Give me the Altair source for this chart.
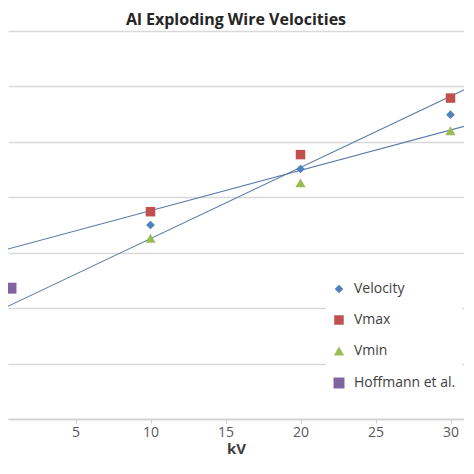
import altair as alt
import pandas as pd

# measured values
kv = [10, 20, 30]
velocity = [3.50, 4.51, 5.49]
vmax = [3.74, 4.77, 5.79]
vmin = [3.26, 4.26, 5.20]
hoff_kv = [0.7]
hoff_v = [2.36]

# trend lines (end points)
trend_kv = [0, 32]
trend_a = [3.03, 5.36]
trend_b = [1.97, 6.08]

series = ["Velocity", "Vmax", "Vmin", "Hoffmann et al."]
colors = ["#4f81bd", "#c0504d", "#9bbb59", "#8064a2"]
shapes = ["diamond", "square", "triangle-up", "square"]
sizes = [75, 120, 95, 190]
y_ticks = [0, 1, 2, 3, 4, 5, 6, 7]
x_ticks = [5, 10, 15, 20, 25, 30]

rows = []
for name, vals in [("Velocity", velocity), ("Vmax", vmax), ("Vmin", vmin)]:
    for k, v in zip(kv, vals):
        rows.append({"kV": k, "v": v, "series": name})
for k, v in zip(hoff_kv, hoff_v):
    rows.append({"kV": k, "v": v, "series": "Hoffmann et al."})
pts = pd.DataFrame(rows)

lines = pd.DataFrame(
    [{"kV": k, "v": v, "line": "A"} for k, v in zip(trend_kv, trend_a)]
    + [{"kV": k, "v": v, "line": "B"} for k, v in zip(trend_kv, trend_b)]
)

xscale = alt.Scale(domain=[0.5, 30.9], nice=False, zero=False)
yscale = alt.Scale(domain=[0, 7], nice=False)

xaxis = alt.Axis(values=x_ticks, title="kV", grid=False, labelFontSize=14,
                 labelColor="#595959", titleFontSize=15, titleColor="#404040",
                 titleFont="Open Sans", labelFont="Open Sans",
                 domainColor="#d0d0d0", domainWidth=1.5, tickColor="#d0d0d0",
                 tickSize=4, labelPadding=2, titlePadding=2)
yaxis = alt.Axis(values=y_ticks, title=None, labels=False, ticks=False,
                 domain=False, grid=True, gridColor="#d9d9d9", gridWidth=1.5)

line_layer = alt.Chart(lines).mark_line(color="#5a7aa6", strokeWidth=1.1, clip=True).encode(
    x=alt.X("kV:Q", scale=xscale, axis=xaxis),
    y=alt.Y("v:Q", scale=yscale, axis=yaxis),
    detail="line:N",
)

leg = dict(title=None, orient="none", legendX=318, legendY=245)
pt_layer = alt.Chart(pts).mark_point(filled=True, opacity=1, clip=True).encode(
    x=alt.X("kV:Q", scale=xscale),
    y=alt.Y("v:Q", scale=yscale),
    color=alt.Color("series:N", scale=alt.Scale(domain=series, range=colors),
                    legend=alt.Legend(fillColor="white", padding=6, rowPadding=15,
                                      labelFontSize=14, labelColor="#404040",
                                      labelFont="Open Sans", symbolOpacity=1,
                                      labelOffset=8, **leg)),
    shape=alt.Shape("series:N", scale=alt.Scale(domain=series, range=shapes),
                    legend=alt.Legend(**leg)),
    size=alt.Size("series:N", scale=alt.Scale(domain=series, range=sizes),
                  legend=alt.Legend(**leg)),
)

chart = alt.layer(line_layer, pt_layer).properties(
    width=456, height=388,
    title=alt.TitleParams("Al Exploding Wire Velocities", fontSize=16, font="Open Sans",
                          fontWeight="bold", color="#262626", offset=3),
    padding={"left": 0, "right": 0, "top": 4, "bottom": 2},
).configure_view(stroke=None)

chart.save("out.html", embed_options={"renderer": "svg", "actions": False})
